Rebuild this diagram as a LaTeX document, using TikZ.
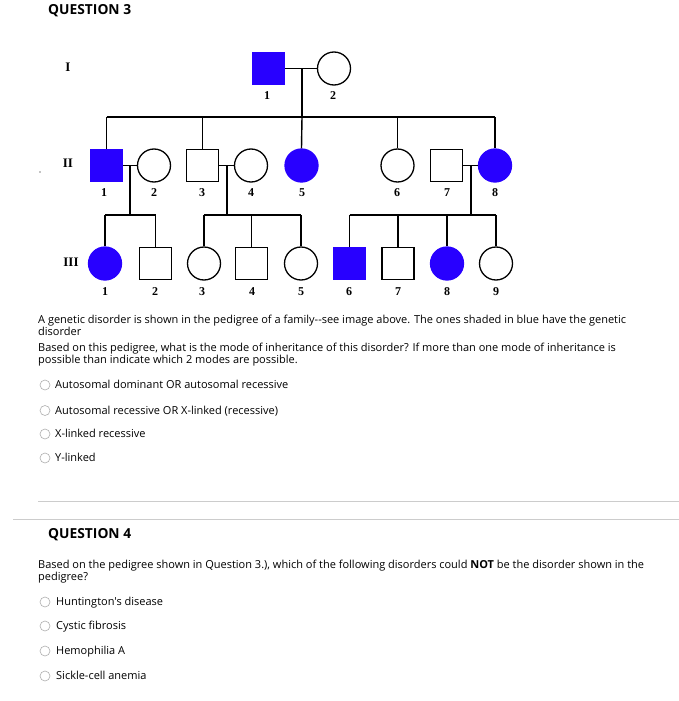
\documentclass[tikz,border=0pt]{standalone}
\usepackage{fontspec}
\setmainfont{Open Sans}[Ligatures=TeXOff]
\newfontfamily\pedfont{Liberation Serif}
\definecolor{affblue}{RGB}{40,0,255}
\definecolor{rulegray}{RGB}{204,204,204}
\definecolor{radiogray}{RGB}{175,175,175}
\tikzset{
  line/.style={draw=black, line width=1.4pt},
  male/.style={rectangle, draw=black, line width=1.3pt, minimum size=32pt, inner sep=0pt, fill=white},
  female/.style={circle, draw=black, line width=1.3pt, minimum size=33pt, inner sep=0pt, fill=white},
  aff/.style={fill=affblue, draw=affblue},
  idlabel/.style={font=\pedfont\bfseries\fontsize{12}{13}\selectfont, inner sep=0pt, anchor=base},
  genlabel/.style={font=\pedfont\bfseries\fontsize{13}{14}\selectfont, inner sep=0pt},
  txt/.style={font=\fontsize{11}{13}\selectfont, inner sep=0pt, anchor=base west},
  head/.style={font=\bfseries\fontsize{13.8}{15}\selectfont, inner sep=0pt, anchor=base west},
  radio/.style={circle, draw=radiogray, line width=0.6pt, minimum size=10pt, inner sep=0pt, fill=white},
  rulebar/.style={draw=rulegray, line width=1pt},
}
\begin{document}
\begin{tikzpicture}[x=1pt, y=-1pt]
\useasboundingbox (0,0) rectangle (679,701);
\fill[white] (0,0) rectangle (679,701);

% heading
\node[head] (q3) at (48,15) {QUESTION 3};

% generation labels
\node[genlabel] (gI) at (68,67) {I};
\node[genlabel] (gII) at (68,163) {II};
\node[genlabel] (gIII) at (71,262) {III};
\fill (40,172) circle (0.6pt);

% Generation I
\node[male, aff] (I1) at (268.5,68.5) {};
\node[female] (I2) at (334,68.5) {};
\node[idlabel] (lI1) at (267,99.5) {1};
\node[idlabel] (lI2) at (333,99.5) {2};

% Generation II
\node[male, aff] (II1) at (106.5,165.5) {};
\node[female] (II2) at (154,165.5) {};
\node[male] (II3) at (202.5,165.5) {};
\node[female] (II4) at (251,165.5) {};
\node[female, aff] (II5) at (301.5,165.5) {};
\node[female] (II6) at (397.5,165.5) {};
\node[male] (II7) at (446.5,165.5) {};
\node[female, aff] (II8) at (495,165.5) {};
\foreach \n/\x in {1/104,2/154,3/202,4/251,5/302,6/397,7/447,8/495}
  \node[idlabel] (lII\n) at (\x,196.5) {\n};

% Generation III
\node[female, aff] (III1) at (105,263.5) {};
\node[male] (III2) at (155.5,263.5) {};
\node[female] (III3) at (204,263.5) {};
\node[male] (III4) at (251.5,263.5) {};
\node[female] (III5) at (301,263.5) {};
\node[male, aff] (III6) at (349.5,263.5) {};
\node[male] (III7) at (398,263.5) {};
\node[female, aff] (III8) at (447,263.5) {};
\node[female] (III9) at (496,263.5) {};
\foreach \n/\x in {1/105,2/155,3/202,4/252,5/301,6/349,7/398,8/447,9/496}
  \node[idlabel] (lIII\n) at (\x,295.5) {\n};

% marriage / descent coordinates
\coordinate (mI) at (302,68.5);
\coordinate (sI) at (302,117);
\coordinate (sIL) at (106.5,117);
\coordinate (sIR) at (495,117);
\coordinate (mA) at (130,165.5);
\coordinate (sA) at (130,215);
\coordinate (sAL) at (105,215);
\coordinate (sAR) at (155.5,215);
\coordinate (mB) at (227,165.5);
\coordinate (sB) at (227,215);
\coordinate (sBL) at (204,215);
\coordinate (sBR) at (301,215);
\coordinate (mC) at (471,165.5);
\coordinate (sC) at (471,215);
\coordinate (sCL) at (349.5,215);
\coordinate (sCR) at (496,215);

% Gen I
\draw[line] (I1.east) -- (I2.west);
\draw[line] (mI) -- (sI);
\draw[line] (sIL) -- (sIR);
\draw[line] (sIL) -- (II1.north);
\draw[line] (II3.north |- sI) -- (II3.north);
\draw[line] (sI) -- (II5.north);
\draw[line] (II6.north |- sI) -- (II6.north);
\draw[line] (sIR) -- (II8.north);
% Gen II couples
\draw[line] (II1.east) -- (II2.west);
\draw[line] (mA) -- (sA);
\draw[line] (sAL) -- (sAR);
\draw[line] (sAL) -- (III1.north);
\draw[line] (sAR) -- (III2.north);
\draw[line] (II3.east) -- (II4.west);
\draw[line] (mB) -- (sB);
\draw[line] (sBL) -- (sBR);
\draw[line] (sBL) -- (III3.north);
\draw[line] (III4.north |- sB) -- (III4.north);
\draw[line] (sBR) -- (III5.north);
\draw[line] (II7.east) -- (II8.west);
\draw[line] (mC) -- (sC);
\draw[line] (sCL) -- (sCR);
\draw[line] (sCL) -- (III6.north);
\draw[line] (III7.north |- sC) -- (III7.north);
\draw[line] (III8.north |- sC) -- (III8.north);
\draw[line] (sCR) -- (III9.north);

% Question 3 text
\node[txt] (t1) at (38,323.5) {A genetic disorder is shown in the pedigree of a family--see image above. The ones shaded in blue have the genetic};
\node[txt] (t2) at (38,335.5) {disorder};
\node[txt] (t3) at (38,351.5) {Based on this pedigree, what is the mode of inheritance of this disorder? If more than one mode of inheritance is};
\node[txt] (t4) at (38,363.5) {possible than indicate which 2 modes are possible.};

\node[radio] (r1) at (45,385) {};
\node[txt] (o1) at (55,388.5) {Autosomal dominant OR autosomal recessive};
\node[radio] (r2) at (45,410.5) {};
\node[txt] (o2) at (55,414) {Autosomal recessive OR X-linked (recessive)};
\node[radio] (r3) at (45,434) {};
\node[txt] (o3) at (55,437.5) {X-linked recessive};
\node[radio] (r4) at (45,458) {};
\node[txt] (o4) at (55,461.5) {Y-linked};

% separators
\coordinate (ra1) at (38,501);
\coordinate (rb1) at (679,501);
\coordinate (ra2) at (13,519);
\coordinate (rb2) at (679,519);
\draw[rulebar] (ra1) -- (rb1);
\draw[rulebar] (ra2) -- (rb2);

% Question 4
\node[head] (q4) at (48,538) {QUESTION 4};
\node[txt] (u1) at (38,568.5) {Based on the pedigree shown in Question 3.), which of the following disorders could \textbf{NOT} be the disorder shown in the};
\node[txt] (u2) at (38,580.5) {pedigree?};

\node[radio] (p1) at (45,602) {};
\node[txt] (v1) at (56,605.5) {Huntington's disease};
\node[radio] (p2) at (45,626) {};
\node[txt] (v2) at (56,629.5) {Cystic fibrosis};
\node[radio] (p3) at (45,651) {};
\node[txt] (v3) at (56,654.5) {Hemophilia A};
\node[radio] (p4) at (45,676) {};
\node[txt] (v4) at (56,679.5) {Sickle-cell anemia};
\end{tikzpicture}
\end{document}
